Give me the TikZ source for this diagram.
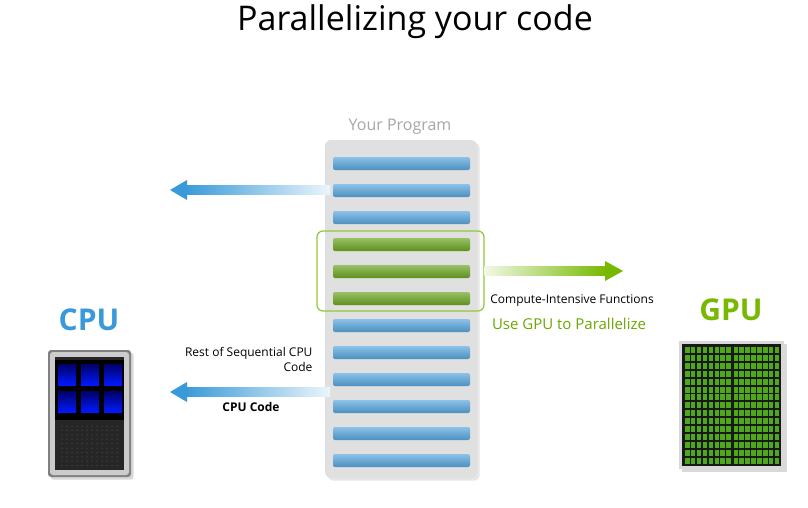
\documentclass[tikz,border=0pt]{standalone}
\usepackage{fontspec}
\setmainfont{Open Sans}
\usetikzlibrary{arrows.meta,shadows}
\definecolor{nvg}{HTML}{76B900}
\definecolor{cblue}{HTML}{3A9AD9}
\definecolor{barb}{HTML}{5AA8E0}
\definecolor{barg}{HTML}{6EA823}
\definecolor{gcell}{HTML}{4FA81A}
\tikzset{
  bar/.style={rounded corners=2pt,top color=#1!70!white,bottom color=#1!85!black,draw=none},
  small/.style={font=\fontsize{12}{15}\selectfont}
}
\begin{document}
\begin{tikzpicture}[x=1pt,y=-1pt]
\useasboundingbox (0,0) rectangle (808,508);
\node (title) at (415,22) {\fontsize{34}{40}\selectfont Parallelizing your code};
\node (yp) at (400,127) [text=black!35,font=\fontsize{16}{19}\selectfont] {Your Program};
\fill[black!12,rounded corners=6pt,drop shadow={opacity=0.2}] (325,140) rectangle (477,478);
\foreach \i in {0,1,2,6,7,8,9,10,11}{
  \path[bar=barb] (333,{157+27*\i}) rectangle (470,{170+27*\i});}
\foreach \i in {3,4,5}{
  \path[bar=barg] (333,{157+27*\i}) rectangle (470,{170+27*\i});}
\node (grp) [draw=nvg!80!white,line width=1.2pt,rounded corners=6pt,minimum width=167pt,minimum height=80pt] at (400.5,271) {};
\shade[left color=cblue,right color=cblue!10] (185,185.5) rectangle (330,194.5);
\fill[cblue] (170,190) -- (187,180) -- (187,200) -- cycle;
\shade[left color=cblue,right color=cblue!10] (185,387.5) rectangle (330,396.5);
\fill[cblue] (170,392) -- (187,382) -- (187,402) -- cycle;
\shade[left color=nvg!10,right color=nvg] (grp.east|-0,266.5) rectangle (606,275.5);
\fill[nvg] (623,271) -- (605,261) -- (605,281) -- cycle;
\node (cif) [small] at (572,301) {Compute-Intensive Functions};
\node (ugp) [text=nvg!90!black,font=\fontsize{15}{18}\selectfont] at (569,324) {Use GPU to Parallelize};
\node (rest) [small,align=right,anchor=east] at (316,359) {Rest of Sequential CPU\\Code};
\node (cc) [font=\bfseries\fontsize{12}{15}\selectfont] at (251,407) {CPU Code};
\node (cpul) [text=cblue,font=\bfseries\fontsize{30}{34}\selectfont] at (89,320) {CPU};
\node (gpul) [text=nvg,font=\bfseries\fontsize{30}{34}\selectfont] at (731,310) {GPU};
% CPU chip
\fill[black!50,rounded corners=3pt,drop shadow={opacity=0.3}] (48,350) rectangle (131,477);
\fill[black!20,rounded corners=3pt] (50,352) rectangle (129,475);
\fill[black!85] (55,357) rectangle (124,470);
\fill[black] (55,360) rectangle (124,420);
\foreach \c in {0,1,2}{\foreach \r in {0,1}{
  \fill[top color=blue!40!black,bottom color=blue!90!cyan] ({58+\c*23},{364+\r*27}) rectangle ({76+\c*23},{385+\r*27});}}
\foreach \c in {0,...,11}{\foreach \r in {0,...,9}{
  \fill[black!60] ({62+\c*5},{426+\r*4.4}) circle (0.5);}}
% GPU chip
\fill[black!15,drop shadow={opacity=0.3}] (679,341) rectangle (784,469);
\fill[black!90] (682,344) rectangle (781,466);
\foreach \c in {0,...,7}{\foreach \r in {0,...,14}{
  \fill[gcell] ({685+\c*5.9},{347+\r*7.9}) rectangle ({689.5+\c*5.9},{353+\r*7.9});
  \fill[gcell] ({733.5+\c*5.9},{347+\r*7.9}) rectangle ({738+\c*5.9},{353+\r*7.9});}}
\end{tikzpicture}
\end{document}
